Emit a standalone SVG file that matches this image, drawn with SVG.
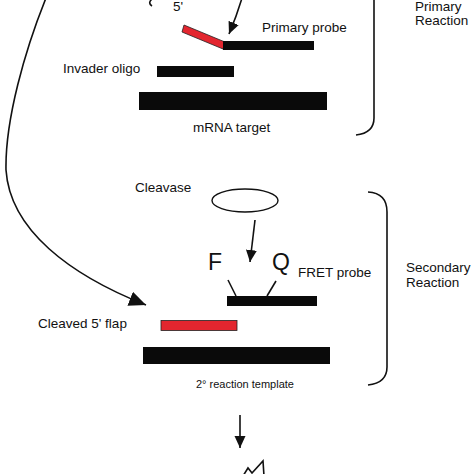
<svg xmlns="http://www.w3.org/2000/svg" width="474" height="474" viewBox="0 0 474 474">
<defs>
<style>
text{font-family:"Liberation Sans",Arial,sans-serif;fill:#111}
.t{font-size:13.5px}
.s{font-size:11px}
.big{font-size:23px}
.bar{fill:#0a0a0a}
.red{fill:#e3262f;stroke:#222;stroke-width:0.8}
.ln{fill:none;stroke:#111;stroke-width:1.6}
</style>
<marker id="ahS" markerUnits="userSpaceOnUse" markerWidth="12" markerHeight="12" viewBox="0 0 12 12" refX="12" refY="6" orient="auto">
<path d="M0,0.5 L12,6 L0,11.5 Z" fill="#111"/>
</marker>
<marker id="ahL" markerUnits="userSpaceOnUse" markerWidth="17" markerHeight="15" viewBox="0 0 17 15" refX="17" refY="7.5" orient="auto">
<path d="M0,0 L17,7.5 L0,15 Z" fill="#111"/>
</marker>
</defs>
<rect width="474" height="474" fill="#fff"/>
<g id="connectors">
<path class="ln" d="M46,-2 C25,50 5,120 6,170 C10,230 70,275 146,305" marker-end="url(#ahL)"/>
<path class="ln" d="M242,-2 Q237,15 229,34" marker-end="url(#ahS)"/>
<path class="ln" d="M153,-2 Q147,3 152,6"/>
<path class="ln" d="M255,220 L250,262" marker-end="url(#ahS)"/>
<path class="ln" d="M240,415 L240,448" marker-end="url(#ahS)"/>
<path class="ln" d="M228,280 L236,296"/>
<path class="ln" d="M276,281 L267,296"/>
</g>
<g id="primary-bracket">
<path class="ln" d="M374,-2 L374,118 Q374,133 356,135"/>
<text class="t" x="415" y="11">Primary</text>
<text class="t" x="415" y="25">Reaction</text>
</g>
<g id="five-prime"><text class="t" x="173" y="11">5'</text></g>
<g id="primary-probe">
<polygon class="red" points="184,25 225,42 223,49 182,32"/>
<rect class="bar" x="223" y="41" width="91" height="9"/>
<text class="t" x="262" y="32">Primary probe</text>
</g>
<g id="invader-oligo">
<rect class="bar" x="157" y="66" width="77" height="11"/>
<text class="t" x="63" y="73">Invader oligo</text>
</g>
<g id="mrna-target">
<rect class="bar" x="139" y="92" width="188" height="18"/>
<text class="t" x="193" y="132">mRNA target</text>
</g>
<g id="cleavase">
<text class="t" x="135" y="192">Cleavase</text>
<ellipse cx="245" cy="200.5" rx="33" ry="11.5" fill="none" stroke="#111" stroke-width="1.4"/>
</g>
<g id="fret-probe">
<text class="big" x="208" y="270">F</text>
<text class="big" x="272" y="270">Q</text>
<text class="t" x="298" y="277">FRET probe</text>
<rect class="bar" x="227" y="296" width="90" height="10"/>
</g>
<g id="secondary-bracket">
<path class="ln" d="M368,192 Q387,193 387,212 L387,367 Q387,383 368,385"/>
<text class="t" x="406" y="272">Secondary</text>
<text class="t" x="406" y="287">Reaction</text>
</g>
<g id="cleaved-flap">
<text class="t" x="38" y="328">Cleaved 5' flap</text>
<rect class="red" x="161" y="320.5" width="76" height="10"/>
</g>
<g id="template">
<rect class="bar" x="143" y="347" width="187" height="17"/>
<text class="s" x="196" y="388">2° reaction template</text>
</g>
<g id="signal">
<path class="ln" d="M243,476 L248,468 L252,473 L263,461 L264,476"/>
</g>
</svg>
